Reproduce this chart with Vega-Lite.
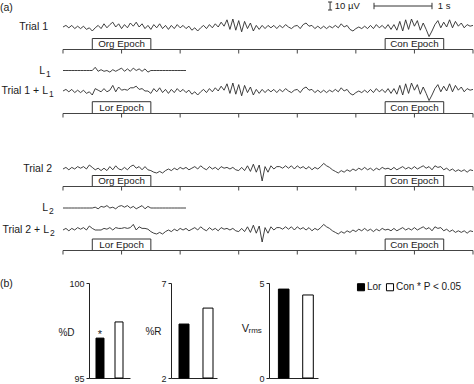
{
"$schema":"https://vega.github.io/schema/vega-lite/v6.json",
"padding":0,"spacing":0,"bounds":"flush",
"config":{"font":"Liberation Sans","view":{"stroke":null},"axis":{"grid":false}},
"datasets":{"eeg":[
{"t":0,"a":0,"b":0,"c":0,"d":0,"e":0,"f":0},
{"t":0.05,"a":2,"b":0,"c":2,"d":2,"e":0,"f":2},
{"t":0.1,"a":-1,"b":0,"c":-1,"d":-1,"e":0,"f":-1},
{"t":0.15,"a":2,"b":0,"c":2,"d":2,"e":0,"f":2},
{"t":0.2,"a":-2,"b":0,"c":-2,"d":0,"e":0,"f":0},
{"t":0.25,"a":1,"b":0,"c":1,"d":3,"e":0,"f":3},
{"t":0.3,"a":-2,"b":0,"c":-2,"d":1,"e":0,"f":1},
{"t":0.35,"a":1,"b":0,"c":1,"d":3,"e":0,"f":3},
{"t":0.4,"a":-3,"b":0,"c":-3,"d":0,"e":0,"f":0},
{"t":0.45,"a":-1,"b":0,"c":-1,"d":5,"e":0,"f":5},
{"t":0.5,"a":-5,"b":0,"c":-5,"d":2,"e":0,"f":2},
{"t":0.55,"a":-1,"b":4,"c":3,"d":-1,"e":1,"f":0},
{"t":0.6,"a":2,"b":-1,"c":1,"d":1,"e":-1,"f":0},
{"t":0.65,"a":-2,"b":1,"c":-1,"d":-2,"e":2,"f":0},
{"t":0.7,"a":4,"b":-1,"c":3,"d":1,"e":1,"f":2},
{"t":0.75,"a":-1,"b":0,"c":-1,"d":-2,"e":3,"f":1},
{"t":0.8,"a":3,"b":-2,"c":1,"d":3,"e":0,"f":3},
{"t":0.85,"a":6,"b":1,"c":7,"d":-1,"e":1,"f":0},
{"t":0.9,"a":0,"b":-1,"c":-1,"d":4,"e":-1,"f":3},
{"t":0.95,"a":4,"b":1,"c":5,"d":0,"e":2,"f":2},
{"t":1,"a":-2,"b":3,"c":1,"d":-1,"e":3,"f":2},
{"t":1.05,"a":3,"b":-1,"c":2,"d":2,"e":1,"f":3},
{"t":1.1,"a":-1,"b":2,"c":1,"d":-1,"e":3,"f":2},
{"t":1.15,"a":5,"b":-1,"c":4,"d":3,"e":0,"f":3},
{"t":1.2,"a":1,"b":3,"c":4,"d":5,"e":2,"f":7},
{"t":1.25,"a":6,"b":0,"c":6,"d":1,"e":-1,"f":0},
{"t":1.3,"a":0,"b":2,"c":2,"d":3,"e":1,"f":4},
{"t":1.35,"a":4,"b":-1,"c":3,"d":-1,"e":3,"f":2},
{"t":1.4,"a":-2,"b":2,"c":0,"d":3,"e":-1,"f":2},
{"t":1.45,"a":2,"b":-2,"c":0,"d":-1,"e":2,"f":1},
{"t":1.5,"a":-3,"b":0,"c":-3,"d":-2,"e":0,"f":-2},
{"t":1.55,"a":3,"b":0,"c":3,"d":-4,"e":0,"f":-4},
{"t":1.6,"a":-1,"b":0,"c":-1,"d":-5,"e":0,"f":-5},
{"t":1.65,"a":4,"b":0,"c":4,"d":-3,"e":0,"f":-3},
{"t":1.7,"a":-2,"b":0,"c":-2,"d":-5,"e":0,"f":-5},
{"t":1.75,"a":2,"b":0,"c":2,"d":-2,"e":0,"f":-2},
{"t":1.8,"a":-3,"b":0,"c":-3,"d":0,"e":0,"f":0},
{"t":1.85,"a":2,"b":0,"c":2,"d":-2,"e":0,"f":-2},
{"t":1.9,"a":-2,"b":0,"c":-2,"d":1,"e":0,"f":1},
{"t":1.95,"a":3,"b":0,"c":3,"d":-1,"e":0,"f":-1},
{"t":2,"a":-1,"b":0,"c":-1,"d":2,"e":0,"f":2},
{"t":2.05,"a":2,"b":0,"c":2,"d":0,"e":0,"f":0},
{"t":2.1,"a":-2,"b":0,"c":-2,"d":2,"e":0,"f":2},
{"t":2.15,"a":1,"c":1,"d":-1,"f":-1},
{"t":2.2,"a":-4,"c":-4,"d":1,"f":1},
{"t":2.25,"a":-1,"c":-1,"d":3,"f":3},
{"t":2.3,"a":-5,"c":-5,"d":0,"f":0},
{"t":2.35,"a":-1,"c":-1,"d":4,"f":4},
{"t":2.4,"a":2,"c":2,"d":1,"f":1},
{"t":2.45,"a":-2,"c":-2,"d":-1,"f":-1},
{"t":2.5,"a":3,"c":3,"d":3,"f":3},
{"t":2.55,"a":-1,"c":-1,"d":0,"f":0},
{"t":2.6,"a":4,"c":4,"d":2,"f":2},
{"t":2.65,"a":0,"c":0,"d":-1,"f":-1},
{"t":2.7,"a":6,"c":6,"d":3,"f":3},
{"t":2.75,"a":1,"c":1,"d":1,"f":1},
{"t":2.8,"a":9,"c":9,"d":2,"f":2},
{"t":2.85,"a":-3,"c":-3,"d":0,"f":0},
{"t":2.9,"a":10,"c":10,"d":2,"f":2},
{"t":2.95,"a":-4,"c":-4,"d":-1,"f":-1},
{"t":3,"a":8,"c":8,"d":-2,"f":-2},
{"t":3.05,"a":-6,"c":-6,"d":2,"f":2},
{"t":3.1,"a":7,"c":7,"d":-2,"f":-2},
{"t":3.15,"a":-2,"c":-2,"d":4,"f":4},
{"t":3.2,"a":5,"c":5,"d":-3,"f":-3},
{"t":3.25,"a":-5,"c":-5,"d":6,"f":6},
{"t":3.3,"a":2,"c":2,"d":-4,"f":-4},
{"t":3.35,"a":-3,"c":-3,"d":5,"f":5},
{"t":3.4,"a":2,"c":2,"d":-15,"f":-15},
{"t":3.45,"a":-2,"c":-2,"d":3,"f":3},
{"t":3.5,"a":2,"c":2,"d":-4,"f":-4},
{"t":3.55,"a":-1,"c":-1,"d":4,"f":4},
{"t":3.6,"a":2,"c":2,"d":0,"f":0},
{"t":3.65,"a":-2,"c":-2,"d":3,"f":3},
{"t":3.7,"a":2,"c":2,"d":3,"f":3},
{"t":3.75,"a":-1,"c":-1,"d":1,"f":1},
{"t":3.8,"a":3,"c":3,"d":4,"f":4},
{"t":3.85,"a":0,"c":0,"d":1,"f":1},
{"t":3.9,"a":-2,"c":-2,"d":4,"f":4},
{"t":3.95,"a":1,"c":1,"d":0,"f":0},
{"t":4,"a":2,"c":2,"d":4,"f":4},
{"t":4.05,"a":-2,"c":-2,"d":1,"f":1},
{"t":4.1,"a":3,"c":3,"d":3,"f":3},
{"t":4.15,"a":5,"c":5,"d":0,"f":0},
{"t":4.2,"a":1,"c":1,"d":3,"f":3},
{"t":4.25,"a":2,"c":2,"d":-1,"f":-1},
{"t":4.3,"a":-2,"c":-2,"d":2,"f":2},
{"t":4.35,"a":1,"c":1,"d":0,"f":0},
{"t":4.4,"a":-2,"c":-2,"d":3,"f":3},
{"t":4.45,"a":1,"c":1,"d":7,"f":7},
{"t":4.5,"a":-2,"c":-2,"d":4,"f":4},
{"t":4.55,"a":1,"c":1,"d":2,"f":2},
{"t":4.6,"a":-1,"c":-1,"d":-1,"f":-1},
{"t":4.65,"a":2,"c":2,"d":-3,"f":-3},
{"t":4.7,"a":-1,"c":-1,"d":-5,"f":-5},
{"t":4.75,"a":4,"c":4,"d":-2,"f":-2},
{"t":4.8,"a":0,"c":0,"d":-4,"f":-4},
{"t":4.85,"a":2,"c":2,"d":-1,"f":-1},
{"t":4.9,"a":-3,"c":-3,"d":-3,"f":-3},
{"t":4.95,"a":-5,"c":-5,"d":0,"f":0},
{"t":5,"a":-2,"c":-2,"d":-2,"f":-2},
{"t":5.05,"a":0,"c":0,"d":1,"f":1},
{"t":5.1,"a":-2,"c":-2,"d":-1,"f":-1},
{"t":5.15,"a":1,"c":1,"d":2,"f":2},
{"t":5.2,"a":-2,"c":-2,"d":-1,"f":-1},
{"t":5.25,"a":2,"c":2,"d":1,"f":1},
{"t":5.3,"a":-2,"c":-2,"d":-2,"f":-2},
{"t":5.35,"a":3,"c":3,"d":1,"f":1},
{"t":5.4,"a":-1,"c":-1,"d":-1,"f":-1},
{"t":5.45,"a":2,"c":2,"d":2,"f":2},
{"t":5.5,"a":-2,"c":-2,"d":0,"f":0},
{"t":5.55,"a":3,"c":3,"d":1,"f":1},
{"t":5.6,"a":-3,"c":-3,"d":-1,"f":-1},
{"t":5.65,"a":3,"c":3,"d":2,"f":2},
{"t":5.7,"a":-4,"c":-4,"d":-1,"f":-1},
{"t":5.75,"a":7,"c":7,"d":1,"f":1},
{"t":5.8,"a":-5,"c":-5,"d":3,"f":3},
{"t":5.85,"a":9,"c":9,"d":0,"f":0},
{"t":5.9,"a":-3,"c":-3,"d":2,"f":2},
{"t":5.95,"a":10,"c":10,"d":0,"f":0},
{"t":6,"a":1,"c":1,"d":3,"f":3},
{"t":6.05,"a":8,"c":8,"d":0,"f":0},
{"t":6.1,"a":-4,"c":-4,"d":2,"f":2},
{"t":6.15,"a":5,"c":5,"d":4,"f":4},
{"t":6.2,"a":-3,"c":-3,"d":1,"f":1},
{"t":6.25,"a":-12,"c":-12,"d":3,"f":3},
{"t":6.3,"a":-5,"c":-5,"d":-1,"f":-1},
{"t":6.35,"a":3,"c":3,"d":4,"f":4},
{"t":6.4,"a":8,"c":8,"d":2,"f":2},
{"t":6.45,"a":-1,"c":-1,"d":3,"f":3},
{"t":6.5,"a":6,"c":6,"d":-1,"f":-1},
{"t":6.55,"a":0,"c":0,"d":1,"f":1},
{"t":6.6,"a":9,"c":9,"d":-2,"f":-2},
{"t":6.65,"a":-1,"c":-1,"d":0,"f":0},
{"t":6.7,"a":7,"c":7,"d":-3,"f":-3},
{"t":6.75,"a":1,"c":1,"d":-1,"f":-1},
{"t":6.8,"a":5,"c":5,"d":-3,"f":-3},
{"t":6.85,"a":-1,"c":-1,"d":-1,"f":-1},
{"t":6.9,"a":3,"c":3,"d":-4,"f":-4},
{"t":6.95,"a":1,"c":1,"d":-1,"f":-1},
{"t":7,"a":2,"c":2,"d":-2,"f":-2}
],
"epochs1":[{"s":0.5,"e":1.5,"m":1,"n":"Org Epoch"},{"s":5.5,"e":6.5,"m":6,"n":"Con Epoch"}],
"epochs2":[{"s":0.5,"e":1.5,"m":1,"n":"Lor Epoch"},{"s":5.5,"e":6.5,"m":6,"n":"Con Epoch"}],
"ticks":[{"s":0},{"s":1},{"s":2},{"s":3},{"s":4},{"s":5},{"s":6},{"s":7}]
},
"vconcat":[
{"width":474,"height":14,"data":{"values":[{}]},
 "layer":[
  {"mark":{"type":"text","align":"left","baseline":"middle","fontSize":10.5,"color":"#1a1a1a"},
   "encoding":{"x":{"datum":-1.0756,"type":"quantitative","scale":{"domain":[-1.0756,7.0171],"nice":false,"zero":false},"axis":null},
   "y":{"datum":7.5,"type":"quantitative","scale":{"domain":[0,17.5],"nice":false,"zero":false},"axis":null},"text":{"value":"(a)"}}},
  {"mark":{"type":"rule","color":"#333","strokeWidth":1},
   "encoding":{"x":{"datum":4.56,"type":"quantitative","scale":{"domain":[-1.0756,7.0171],"nice":false,"zero":false},"axis":null},
   "y":{"datum":5,"type":"quantitative","scale":{"domain":[0,17.5],"nice":false,"zero":false},"axis":null},"y2":{"datum":15}}},
  {"mark":{"type":"rule","color":"#333","strokeWidth":1},
   "encoding":{"x":{"datum":4.525,"type":"quantitative","scale":{"domain":[-1.0756,7.0171],"nice":false,"zero":false},"axis":null},"x2":{"datum":4.595},
   "y":{"datum":15,"type":"quantitative","scale":{"domain":[0,17.5],"nice":false,"zero":false},"axis":null}}},
  {"mark":{"type":"rule","color":"#333","strokeWidth":1},
   "encoding":{"x":{"datum":4.525,"type":"quantitative","scale":{"domain":[-1.0756,7.0171],"nice":false,"zero":false},"axis":null},"x2":{"datum":4.595},
   "y":{"datum":5,"type":"quantitative","scale":{"domain":[0,17.5],"nice":false,"zero":false},"axis":null}}},
  {"mark":{"type":"text","align":"left","baseline":"middle","fontSize":9.5,"color":"#1a1a1a"},
   "encoding":{"x":{"datum":4.64,"type":"quantitative","scale":{"domain":[-1.0756,7.0171],"nice":false,"zero":false},"axis":null},
   "y":{"datum":10,"type":"quantitative","scale":{"domain":[0,17.5],"nice":false,"zero":false},"axis":null},"text":{"value":"10 µV"}}},
  {"mark":{"type":"rule","color":"#333","strokeWidth":1},
   "encoding":{"x":{"datum":5.31,"type":"quantitative","scale":{"domain":[-1.0756,7.0171],"nice":false,"zero":false},"axis":null},"x2":{"datum":6.3},
   "y":{"datum":10,"type":"quantitative","scale":{"domain":[0,17.5],"nice":false,"zero":false},"axis":null}}},
  {"mark":{"type":"rule","color":"#333","strokeWidth":1},
   "encoding":{"x":{"datum":5.31,"type":"quantitative","scale":{"domain":[-1.0756,7.0171],"nice":false,"zero":false},"axis":null},
   "y":{"datum":6,"type":"quantitative","scale":{"domain":[0,17.5],"nice":false,"zero":false},"axis":null},"y2":{"datum":14}}},
  {"mark":{"type":"rule","color":"#333","strokeWidth":1},
   "encoding":{"x":{"datum":6.3,"type":"quantitative","scale":{"domain":[-1.0756,7.0171],"nice":false,"zero":false},"axis":null},
   "y":{"datum":6,"type":"quantitative","scale":{"domain":[0,17.5],"nice":false,"zero":false},"axis":null},"y2":{"datum":14}}},
  {"mark":{"type":"text","align":"left","baseline":"middle","fontSize":9.5,"color":"#1a1a1a"},
   "encoding":{"x":{"datum":6.4,"type":"quantitative","scale":{"domain":[-1.0756,7.0171],"nice":false,"zero":false},"axis":null},
   "y":{"datum":10,"type":"quantitative","scale":{"domain":[0,17.5],"nice":false,"zero":false},"axis":null},"text":{"value":"1 s"}}}
 ]},
{"width":474,"height":44,
 "layer":[
  {"data":{"name":"epochs1"},"mark":{"type":"rect","fill":"white","stroke":"#333","strokeWidth":1},
   "encoding":{"x":{"field":"s","type":"quantitative","scale":{"domain":[-1.0756,7.0171],"nice":false,"zero":false},"axis":null},"x2":{"field":"e"},
   "y":{"datum":-14.4,"type":"quantitative","scale":{"domain":[-38.75,16.25],"nice":false,"zero":false},"axis":null},"y2":{"datum":-28.125}}},
  {"data":{"name":"epochs1"},"mark":{"type":"text","align":"center","baseline":"middle","fontSize":9.8,"color":"#1a1a1a"},
   "encoding":{"x":{"field":"m","type":"quantitative","scale":{"domain":[-1.0756,7.0171],"nice":false,"zero":false},"axis":null},
   "y":{"datum":-21.3,"type":"quantitative","scale":{"domain":[-38.75,16.25],"nice":false,"zero":false},"axis":null},"text":{"field":"n"}}},
  {"data":{"values":[{}]},"mark":{"type":"rule","color":"#444","strokeWidth":1},
   "encoding":{"x":{"datum":0,"type":"quantitative","scale":{"domain":[-1.0756,7.0171],"nice":false,"zero":false},"axis":null},"x2":{"datum":7},
   "y":{"datum":-28.125,"type":"quantitative","scale":{"domain":[-38.75,16.25],"nice":false,"zero":false},"axis":null}}},
  {"data":{"name":"ticks"},"mark":{"type":"rule","color":"#444","strokeWidth":1},
   "encoding":{"x":{"field":"s","type":"quantitative","scale":{"domain":[-1.0756,7.0171],"nice":false,"zero":false},"axis":null},
   "y":{"datum":-28.125,"type":"quantitative","scale":{"domain":[-38.75,16.25],"nice":false,"zero":false},"axis":null},"y2":{"datum":-33.125}}},
  {"data":{"name":"eeg"},"mark":{"type":"line","color":"#2b2b2b","strokeWidth":0.9},
   "encoding":{"x":{"field":"t","type":"quantitative","scale":{"domain":[-1.0756,7.0171],"nice":false,"zero":false},"axis":null},
   "y":{"field":"a","type":"quantitative","scale":{"domain":[-38.75,16.25],"nice":false,"zero":false},"axis":null}}},
  {"data":{"values":[{}]},"mark":{"type":"text","align":"right","baseline":"middle","fontSize":10.5,"color":"#1a1a1a"},
   "encoding":{"x":{"datum":-0.256,"type":"quantitative","scale":{"domain":[-1.0756,7.0171],"nice":false,"zero":false},"axis":null},
   "y":{"datum":0,"type":"quantitative","scale":{"domain":[-38.75,16.25],"nice":false,"zero":false},"axis":null},"text":{"value":"Trial 1"}}}
 ]},
{"width":474,"height":22,
 "layer":[
  {"data":{"name":"eeg"},"mark":{"type":"line","color":"#2b2b2b","strokeWidth":0.9},
   "encoding":{"x":{"field":"t","type":"quantitative","scale":{"domain":[-1.0756,7.0171],"nice":false,"zero":false},"axis":null},
   "y":{"field":"b","type":"quantitative","scale":{"domain":[-11.875,15.625],"nice":false,"zero":false},"axis":null}}},
  {"data":{"values":[{}]},"mark":{"type":"text","align":"right","baseline":"middle","fontSize":10.5,"color":"#1a1a1a"},
   "encoding":{"x":{"datum":-0.307,"type":"quantitative","scale":{"domain":[-1.0756,7.0171],"nice":false,"zero":false},"axis":null},
   "y":{"datum":0,"type":"quantitative","scale":{"domain":[-11.875,15.625],"nice":false,"zero":false},"axis":null},"text":{"value":"L"}}},
  {"data":{"values":[{}]},"mark":{"type":"text","align":"left","baseline":"middle","fontSize":8.5,"dy":3,"color":"#1a1a1a"},
   "encoding":{"x":{"datum":-0.29,"type":"quantitative","scale":{"domain":[-1.0756,7.0171],"nice":false,"zero":false},"axis":null},
   "y":{"datum":0,"type":"quantitative","scale":{"domain":[-11.875,15.625],"nice":false,"zero":false},"axis":null},"text":{"value":"1"}}}
 ]},
{"width":474,"height":45,
 "layer":[
  {"data":{"name":"epochs2"},"mark":{"type":"rect","fill":"white","stroke":"#333","strokeWidth":1},
   "encoding":{"x":{"field":"s","type":"quantitative","scale":{"domain":[-1.0756,7.0171],"nice":false,"zero":false},"axis":null},"x2":{"field":"e"},
   "y":{"datum":-13.375,"type":"quantitative","scale":{"domain":[-42.5,13.75],"nice":false,"zero":false},"axis":null},"y2":{"datum":-28.125}}},
  {"data":{"name":"epochs2"},"mark":{"type":"text","align":"center","baseline":"middle","fontSize":9.8,"color":"#1a1a1a"},
   "encoding":{"x":{"field":"m","type":"quantitative","scale":{"domain":[-1.0756,7.0171],"nice":false,"zero":false},"axis":null},
   "y":{"datum":-20.75,"type":"quantitative","scale":{"domain":[-42.5,13.75],"nice":false,"zero":false},"axis":null},"text":{"field":"n"}}},
  {"data":{"values":[{}]},"mark":{"type":"rule","color":"#444","strokeWidth":1},
   "encoding":{"x":{"datum":0,"type":"quantitative","scale":{"domain":[-1.0756,7.0171],"nice":false,"zero":false},"axis":null},"x2":{"datum":7},
   "y":{"datum":-28.125,"type":"quantitative","scale":{"domain":[-42.5,13.75],"nice":false,"zero":false},"axis":null}}},
  {"data":{"name":"ticks"},"mark":{"type":"rule","color":"#444","strokeWidth":1},
   "encoding":{"x":{"field":"s","type":"quantitative","scale":{"domain":[-1.0756,7.0171],"nice":false,"zero":false},"axis":null},
   "y":{"datum":-28.125,"type":"quantitative","scale":{"domain":[-42.5,13.75],"nice":false,"zero":false},"axis":null},"y2":{"datum":-33.125}}},
  {"data":{"name":"eeg"},"mark":{"type":"line","color":"#2b2b2b","strokeWidth":0.9},
   "encoding":{"x":{"field":"t","type":"quantitative","scale":{"domain":[-1.0756,7.0171],"nice":false,"zero":false},"axis":null},
   "y":{"field":"c","type":"quantitative","scale":{"domain":[-42.5,13.75],"nice":false,"zero":false},"axis":null}}},
  {"data":{"values":[{}]},"mark":{"type":"text","align":"right","baseline":"middle","fontSize":10.5,"color":"#1a1a1a"},
   "encoding":{"x":{"datum":-0.256,"type":"quantitative","scale":{"domain":[-1.0756,7.0171],"nice":false,"zero":false},"axis":null},
   "y":{"datum":0,"type":"quantitative","scale":{"domain":[-42.5,13.75],"nice":false,"zero":false},"axis":null},"text":{"value":"Trial 1 + L"}}},
  {"data":{"values":[{}]},"mark":{"type":"text","align":"left","baseline":"middle","fontSize":8.5,"dy":3,"color":"#1a1a1a"},
   "encoding":{"x":{"datum":-0.239,"type":"quantitative","scale":{"domain":[-1.0756,7.0171],"nice":false,"zero":false},"axis":null},
   "y":{"datum":0,"type":"quantitative","scale":{"domain":[-42.5,13.75],"nice":false,"zero":false},"axis":null},"text":{"value":"1"}}}
 ]},
{"width":474,"height":72,
 "layer":[
  {"data":{"name":"epochs1"},"mark":{"type":"rect","fill":"white","stroke":"#333","strokeWidth":1},
   "encoding":{"x":{"field":"s","type":"quantitative","scale":{"domain":[-1.0756,7.0171],"nice":false,"zero":false},"axis":null},"x2":{"field":"e"},
   "y":{"datum":-8.125,"type":"quantitative","scale":{"domain":[-35,55],"nice":false,"zero":false},"axis":null},"y2":{"datum":-21.875}}},
  {"data":{"name":"epochs1"},"mark":{"type":"text","align":"center","baseline":"middle","fontSize":9.8,"color":"#1a1a1a"},
   "encoding":{"x":{"field":"m","type":"quantitative","scale":{"domain":[-1.0756,7.0171],"nice":false,"zero":false},"axis":null},
   "y":{"datum":-15,"type":"quantitative","scale":{"domain":[-35,55],"nice":false,"zero":false},"axis":null},"text":{"field":"n"}}},
  {"data":{"values":[{}]},"mark":{"type":"rule","color":"#444","strokeWidth":1},
   "encoding":{"x":{"datum":0,"type":"quantitative","scale":{"domain":[-1.0756,7.0171],"nice":false,"zero":false},"axis":null},"x2":{"datum":7},
   "y":{"datum":-21.875,"type":"quantitative","scale":{"domain":[-35,55],"nice":false,"zero":false},"axis":null}}},
  {"data":{"name":"ticks"},"mark":{"type":"rule","color":"#444","strokeWidth":1},
   "encoding":{"x":{"field":"s","type":"quantitative","scale":{"domain":[-1.0756,7.0171],"nice":false,"zero":false},"axis":null},
   "y":{"datum":-21.875,"type":"quantitative","scale":{"domain":[-35,55],"nice":false,"zero":false},"axis":null},"y2":{"datum":-26.875}}},
  {"data":{"name":"eeg"},"mark":{"type":"line","color":"#2b2b2b","strokeWidth":0.9},
   "encoding":{"x":{"field":"t","type":"quantitative","scale":{"domain":[-1.0756,7.0171],"nice":false,"zero":false},"axis":null},
   "y":{"field":"d","type":"quantitative","scale":{"domain":[-35,55],"nice":false,"zero":false},"axis":null}}},
  {"data":{"values":[{}]},"mark":{"type":"text","align":"right","baseline":"middle","fontSize":10.5,"color":"#1a1a1a"},
   "encoding":{"x":{"datum":-0.188,"type":"quantitative","scale":{"domain":[-1.0756,7.0171],"nice":false,"zero":false},"axis":null},
   "y":{"datum":0,"type":"quantitative","scale":{"domain":[-35,55],"nice":false,"zero":false},"axis":null},"text":{"value":"Trial 2"}}}
 ]},
{"width":474,"height":21,
 "layer":[
  {"data":{"name":"eeg"},"mark":{"type":"line","color":"#2b2b2b","strokeWidth":0.9},
   "encoding":{"x":{"field":"t","type":"quantitative","scale":{"domain":[-1.0756,7.0171],"nice":false,"zero":false},"axis":null},
   "y":{"field":"e","type":"quantitative","scale":{"domain":[-12.5,13.75],"nice":false,"zero":false},"axis":null}}},
  {"data":{"values":[{}]},"mark":{"type":"text","align":"right","baseline":"middle","fontSize":10.5,"color":"#1a1a1a"},
   "encoding":{"x":{"datum":-0.256,"type":"quantitative","scale":{"domain":[-1.0756,7.0171],"nice":false,"zero":false},"axis":null},
   "y":{"datum":0,"type":"quantitative","scale":{"domain":[-12.5,13.75],"nice":false,"zero":false},"axis":null},"text":{"value":"L"}}},
  {"data":{"values":[{}]},"mark":{"type":"text","align":"left","baseline":"middle","fontSize":8.5,"dy":3,"color":"#1a1a1a"},
   "encoding":{"x":{"datum":-0.239,"type":"quantitative","scale":{"domain":[-1.0756,7.0171],"nice":false,"zero":false},"axis":null},
   "y":{"datum":0,"type":"quantitative","scale":{"domain":[-12.5,13.75],"nice":false,"zero":false},"axis":null},"text":{"value":"2"}}}
 ]},
{"width":474,"height":65,
 "layer":[
  {"data":{"name":"epochs2"},"mark":{"type":"rect","fill":"white","stroke":"#333","strokeWidth":1},
   "encoding":{"x":{"field":"s","type":"quantitative","scale":{"domain":[-1.0756,7.0171],"nice":false,"zero":false},"axis":null},"x2":{"field":"e"},
   "y":{"datum":-11.25,"type":"quantitative","scale":{"domain":[-66.25,15],"nice":false,"zero":false},"axis":null},"y2":{"datum":-25.625}}},
  {"data":{"name":"epochs2"},"mark":{"type":"text","align":"center","baseline":"middle","fontSize":9.8,"color":"#1a1a1a"},
   "encoding":{"x":{"field":"m","type":"quantitative","scale":{"domain":[-1.0756,7.0171],"nice":false,"zero":false},"axis":null},
   "y":{"datum":-18.44,"type":"quantitative","scale":{"domain":[-66.25,15],"nice":false,"zero":false},"axis":null},"text":{"field":"n"}}},
  {"data":{"values":[{}]},"mark":{"type":"rule","color":"#444","strokeWidth":1},
   "encoding":{"x":{"datum":0,"type":"quantitative","scale":{"domain":[-1.0756,7.0171],"nice":false,"zero":false},"axis":null},"x2":{"datum":7},
   "y":{"datum":-25.625,"type":"quantitative","scale":{"domain":[-66.25,15],"nice":false,"zero":false},"axis":null}}},
  {"data":{"name":"ticks"},"mark":{"type":"rule","color":"#444","strokeWidth":1},
   "encoding":{"x":{"field":"s","type":"quantitative","scale":{"domain":[-1.0756,7.0171],"nice":false,"zero":false},"axis":null},
   "y":{"datum":-25.625,"type":"quantitative","scale":{"domain":[-66.25,15],"nice":false,"zero":false},"axis":null},"y2":{"datum":-30.625}}},
  {"data":{"name":"eeg"},"mark":{"type":"line","color":"#2b2b2b","strokeWidth":0.9},
   "encoding":{"x":{"field":"t","type":"quantitative","scale":{"domain":[-1.0756,7.0171],"nice":false,"zero":false},"axis":null},
   "y":{"field":"f","type":"quantitative","scale":{"domain":[-66.25,15],"nice":false,"zero":false},"axis":null}}},
  {"data":{"values":[{}]},"mark":{"type":"text","align":"right","baseline":"middle","fontSize":10.5,"color":"#1a1a1a"},
   "encoding":{"x":{"datum":-0.239,"type":"quantitative","scale":{"domain":[-1.0756,7.0171],"nice":false,"zero":false},"axis":null},
   "y":{"datum":0,"type":"quantitative","scale":{"domain":[-66.25,15],"nice":false,"zero":false},"axis":null},"text":{"value":"Trial 2 + L"}}},
  {"data":{"values":[{}]},"mark":{"type":"text","align":"left","baseline":"middle","fontSize":8.5,"dy":3,"color":"#1a1a1a"},
   "encoding":{"x":{"datum":-0.222,"type":"quantitative","scale":{"domain":[-1.0756,7.0171],"nice":false,"zero":false},"axis":null},
   "y":{"datum":0,"type":"quantitative","scale":{"domain":[-66.25,15],"nice":false,"zero":false},"axis":null},"text":{"value":"2"}}}
 ]},
{"hconcat":[
  {"width":89,"height":95,"data":{"values":[{}]},"mark":{"type":"text"},"encoding":{"text":{"value":""}},
   "title":{"text":"(b)","anchor":"start","frame":"group","orient":"top","offset":-11,"baseline":"middle","fontSize":10.5,"fontWeight":"normal","color":"#1a1a1a"}},
  {"width":41,"height":95,
   "data":{"values":[{"g":"Lor","v":97.1,"sig":"*"},{"g":"Con","v":97.95,"sig":""}]},
   "layer":[
    {"mark":{"type":"bar","stroke":"black","strokeWidth":1},
     "encoding":{
      "x":{"field":"g","type":"nominal","scale":{"domain":["Lor","Con"],"paddingInner":0.579,"paddingOuter":0.368,"align":0.5},"axis":{"domain":true,"domainColor":"#222","ticks":false,"labels":false,"title":null}},
      "y":{"field":"v","type":"quantitative","scale":{"domain":[95,100],"nice":false,"zero":false},
        "axis":{"values":[95,100],"tickSize":3,"tickColor":"#222","domainColor":"#222","labelFontSize":9,"labelPadding":2,"labelColor":"#1a1a1a","title":"%D","titleAngle":0,"titleAlign":"right","titleBaseline":"middle","titleX":-15,"titleY":49,"titleFontSize":10,"titleFontWeight":"normal","titleColor":"#1a1a1a"}},
      "y2":{"datum":95},
      "fill":{"field":"g","type":"nominal","scale":{"domain":["Lor","Con"],"range":["black","white"]},"legend":null}}},
    {"mark":{"type":"text","baseline":"alphabetic","fontSize":11,"color":"#1a1a1a"},
     "encoding":{"x":{"field":"g","type":"nominal"},"y":{"field":"v","type":"quantitative"},"text":{"field":"sig"}}}
   ]},
  {"width":41,"height":95,"data":{"values":[{}]},"mark":{"type":"text"},"encoding":{"text":{"value":""}}},
  {"width":46,"height":95,
   "data":{"values":[{"g":"Lor","v":4.84},{"g":"Con","v":5.68}]},
   "mark":{"type":"bar","stroke":"black","strokeWidth":1},
   "encoding":{
    "x":{"field":"g","type":"nominal","scale":{"domain":["Lor","Con"],"paddingInner":0.583,"paddingOuter":0.25,"align":0.667},"axis":{"domain":true,"domainColor":"#222","ticks":false,"labels":false,"title":null}},
    "y":{"field":"v","type":"quantitative","scale":{"domain":[2,7],"nice":false,"zero":false},
      "axis":{"values":[2,7],"tickSize":3,"tickColor":"#222","domainColor":"#222","labelFontSize":9,"labelPadding":2,"labelColor":"#1a1a1a","title":"%R","titleAngle":0,"titleAlign":"right","titleBaseline":"middle","titleX":-10,"titleY":48,"titleFontSize":10,"titleFontWeight":"normal","titleColor":"#1a1a1a"}},
    "y2":{"datum":2},
    "fill":{"field":"g","type":"nominal","scale":{"domain":["Lor","Con"],"range":["black","white"]},"legend":null}}},
  {"width":52,"height":95,"data":{"values":[{}]},"mark":{"type":"text"},"encoding":{"text":{"value":""}}},
  {"width":49,"height":95,
   "data":{"values":[{"g":"Lor","v":4.68},{"g":"Con","v":4.37}]},
   "layer":[
    {"mark":{"type":"bar","stroke":"black","strokeWidth":1},
     "encoding":{
      "x":{"field":"g","type":"nominal","scale":{"domain":["Lor","Con"],"paddingInner":0.564,"paddingOuter":0.29,"align":0.667},"axis":{"domain":true,"domainColor":"#222","ticks":false,"labels":false,"title":null}},
      "y":{"field":"v","type":"quantitative","scale":{"domain":[0,5],"nice":false,"zero":false},
        "axis":{"values":[0,5],"tickSize":3,"tickColor":"#222","domainColor":"#222","labelFontSize":9,"labelPadding":2,"labelColor":"#1a1a1a","title":"V","titleAngle":0,"titleAlign":"right","titleBaseline":"middle","titleX":-20.5,"titleY":45,"titleFontSize":11,"titleFontWeight":"normal","titleColor":"#1a1a1a"}},
      "y2":{"datum":0},
      "fill":{"field":"g","type":"nominal","scale":{"domain":["Lor","Con"],"range":["black","white"]},
        "legend":{"orient":"none","legendX":87,"legendY":-1,"direction":"horizontal","symbolType":"square","symbolSize":50,"symbolStrokeColor":"black","symbolStrokeWidth":1,"labelFontSize":10,"labelOffset":1,"labelColor":"#1a1a1a","columnPadding":2,"padding":0,"title":"* P < 0.05","titleOrient":"right","titleFontSize":10,"titleFontWeight":"normal","titlePadding":3,"titleColor":"#1a1a1a"}}}},
    {"data":{"values":[{}]},"mark":{"type":"text","align":"left","baseline":"middle","fontSize":8,"dx":-35.2,"color":"#1a1a1a"},
     "encoding":{"x":{"datum":"Lor","type":"nominal"},"y":{"datum":2.45,"type":"quantitative"},"text":{"value":"rms"}}}
   ]}
 ],
 "spacing":0,"bounds":"flush",
 "resolve":{"scale":{"fill":"independent","x":"independent","y":"independent"},"legend":{"fill":"independent"}}}
]
}
